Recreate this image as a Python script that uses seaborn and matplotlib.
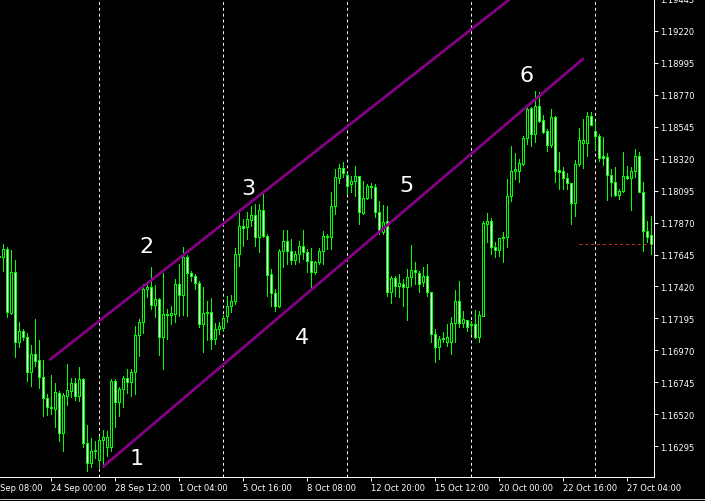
import numpy as np
import matplotlib
matplotlib.use("Agg")
import matplotlib.pyplot as plt
from matplotlib.lines import Line2D
import seaborn as sns

# --- OHLC, one value per H4 bar, left to right --- #
opens = [
    1.17629, 1.17629, 1.17685, 1.17235, 1.17523, 1.17030, 1.17108, 1.17066, 1.16819, 1.16946,
    1.16904, 1.16784, 1.16636, 1.16573, 1.16559, 1.16671, 1.16390, 1.16650, 1.16685, 1.16742,
    1.16650, 1.16770, 1.16319, 1.16179, 1.16270, 1.16200, 1.16340, 1.16291, 1.16291, 1.16756,
    1.16608, 1.16699, 1.16777, 1.16749, 1.16819, 1.17080, 1.17171, 1.17403, 1.17417, 1.17291,
    1.17333, 1.17066, 1.17228, 1.17221, 1.17228, 1.17439, 1.17361, 1.17629, 1.17516, 1.17495,
    1.17446, 1.17157, 1.17235, 1.17242, 1.17051, 1.17122, 1.17129, 1.17214, 1.17284, 1.17319,
    1.17650, 1.17847, 1.17840, 1.17889, 1.17924, 1.17769, 1.17960, 1.17776, 1.17509, 1.17375,
    1.17284, 1.17671, 1.17741, 1.17671, 1.17608, 1.17650, 1.17706, 1.17664, 1.17601, 1.17523,
    1.17594, 1.17671, 1.17776, 1.17769, 1.17988, 1.18185, 1.18255, 1.18206, 1.18143, 1.18164,
    1.18199, 1.17938, 1.18044, 1.18128, 1.18121, 1.17946, 1.17805, 1.17882, 1.17382, 1.17481,
    1.17425, 1.17439, 1.17417, 1.17488, 1.17537, 1.17516, 1.17453, 1.17495, 1.17382, 1.17087,
    1.16995, 1.17051, 1.17030, 1.17030, 1.17164, 1.17319, 1.17164, 1.17185, 1.17157, 1.17157,
    1.17066, 1.17214, 1.17861, 1.17882, 1.17699, 1.17678, 1.17762, 1.17769, 1.18058, 1.18234,
    1.18234, 1.18284, 1.18467, 1.18678, 1.18495, 1.18692, 1.18593, 1.18516, 1.18417, 1.18614,
    1.18241, 1.18234, 1.18185, 1.18150, 1.18009, 1.18284, 1.18431, 1.18431, 1.18621, 1.18516,
    1.18481, 1.18340, 1.18333, 1.18206, 1.18157, 1.18065, 1.18093, 1.18199, 1.18185, 1.18234,
    1.18340, 1.18086, 1.17812, 1.17783,
]
highs = [
    1.17650, 1.17720, 1.17699, 1.17678, 1.17608, 1.17171, 1.17122, 1.17094, 1.17009, 1.17192,
    1.17044, 1.16904, 1.16664, 1.16798, 1.16742, 1.16685, 1.16671, 1.16876, 1.16777, 1.16777,
    1.16855, 1.16777, 1.16446, 1.16355, 1.16333, 1.16369, 1.16411, 1.16404, 1.16770, 1.16770,
    1.16714, 1.16791, 1.16840, 1.16840, 1.17143, 1.17192, 1.17439, 1.17439, 1.17558, 1.17432,
    1.17340, 1.17516, 1.17263, 1.17284, 1.17474, 1.17580, 1.17699, 1.17643, 1.17530, 1.17509,
    1.17460, 1.17417, 1.17319, 1.17340, 1.17164, 1.17171, 1.17221, 1.17354, 1.17361, 1.17692,
    1.17967, 1.17896, 1.17946, 1.17988, 1.18002, 1.18002, 1.18072, 1.17790, 1.17544, 1.17403,
    1.17685, 1.17819, 1.17819, 1.17755, 1.17671, 1.17741, 1.17819, 1.17685, 1.17692, 1.17601,
    1.17692, 1.17812, 1.17790, 1.18086, 1.18248, 1.18284, 1.18298, 1.18220, 1.18199, 1.18269,
    1.18199, 1.18164, 1.18143, 1.18150, 1.18143, 1.18023, 1.17995, 1.17988, 1.17495, 1.17495,
    1.17509, 1.17474, 1.17544, 1.17713, 1.17594, 1.17530, 1.17558, 1.17580, 1.17382, 1.17122,
    1.17073, 1.17101, 1.17157, 1.17207, 1.17396, 1.17460, 1.17249, 1.17185, 1.17178, 1.17256,
    1.17249, 1.17882, 1.17938, 1.17903, 1.17734, 1.17762, 1.17805, 1.18178, 1.18410, 1.18361,
    1.18319, 1.18481, 1.18685, 1.18685, 1.18797, 1.18790, 1.18628, 1.18530, 1.18671, 1.18621,
    1.18368, 1.18262, 1.18220, 1.18150, 1.18312, 1.18537, 1.18600, 1.18650, 1.18650, 1.18586,
    1.18495, 1.18474, 1.18361, 1.18248, 1.18262, 1.18107, 1.18368, 1.18269, 1.18262, 1.18389,
    1.18368, 1.18157, 1.17882, 1.17917,
]
lows = [
    1.17601, 1.17530, 1.17207, 1.17228, 1.16925, 1.16995, 1.17044, 1.16756, 1.16721, 1.16862,
    1.16707, 1.16510, 1.16517, 1.16524, 1.16432, 1.16333, 1.16263, 1.16587, 1.16643, 1.16622,
    1.16615, 1.16291, 1.16122, 1.16151, 1.16214, 1.16151, 1.16151, 1.16228, 1.16263, 1.16432,
    1.16510, 1.16573, 1.16671, 1.16650, 1.16664, 1.16932, 1.17094, 1.17347, 1.17263, 1.17207,
    1.16939, 1.16840, 1.17051, 1.17157, 1.17171, 1.17214, 1.17221, 1.17214, 1.17460, 1.17403,
    1.17136, 1.16960, 1.17044, 1.16981, 1.17016, 1.17087, 1.17108, 1.17171, 1.17242, 1.17298,
    1.17565, 1.17706, 1.17755, 1.17847, 1.17706, 1.17664, 1.17769, 1.17354, 1.17284, 1.17249,
    1.17277, 1.17558, 1.17580, 1.17580, 1.17580, 1.17594, 1.17615, 1.17523, 1.17403, 1.17509,
    1.17580, 1.17580, 1.17685, 1.17685, 1.17931, 1.18150, 1.18192, 1.18072, 1.18086, 1.18058,
    1.17861, 1.17931, 1.18037, 1.18044, 1.17910, 1.17790, 1.17790, 1.17354, 1.17305, 1.17354,
    1.17347, 1.17284, 1.17185, 1.17425, 1.17439, 1.17382, 1.17425, 1.17354, 1.17030, 1.16890,
    1.16911, 1.17030, 1.17002, 1.16946, 1.17030, 1.17136, 1.17136, 1.17108, 1.17087, 1.17058,
    1.17030, 1.17214, 1.17734, 1.17650, 1.17629, 1.17636, 1.17594, 1.17699, 1.18023, 1.18178,
    1.18157, 1.18277, 1.18424, 1.18410, 1.18438, 1.18579, 1.18502, 1.18375, 1.18403, 1.18157,
    1.18107, 1.18107, 1.18107, 1.17861, 1.17917, 1.18269, 1.18255, 1.18340, 1.18558, 1.18389,
    1.18305, 1.18276, 1.18030, 1.18058, 1.18058, 1.18037, 1.18086, 1.18178, 1.17960, 1.18192,
    1.18086, 1.17671, 1.17734, 1.17650,
]
closes = [
    1.17636, 1.17685, 1.17242, 1.17523, 1.17030, 1.17108, 1.17066, 1.16819, 1.16946, 1.16897,
    1.16784, 1.16636, 1.16573, 1.16566, 1.16678, 1.16390, 1.16657, 1.16692, 1.16742, 1.16650,
    1.16770, 1.16319, 1.16179, 1.16263, 1.16263, 1.16340, 1.16362, 1.16362, 1.16756, 1.16608,
    1.16699, 1.16777, 1.16749, 1.16819, 1.17080, 1.17171, 1.17403, 1.17417, 1.17291, 1.17333,
    1.17066, 1.17228, 1.17221, 1.17235, 1.17439, 1.17361, 1.17629, 1.17516, 1.17495, 1.17446,
    1.17157, 1.17235, 1.17242, 1.17051, 1.17122, 1.17143, 1.17199, 1.17284, 1.17319, 1.17650,
    1.17847, 1.17833, 1.17896, 1.17924, 1.17769, 1.17960, 1.17776, 1.17502, 1.17375, 1.17284,
    1.17671, 1.17741, 1.17671, 1.17608, 1.17650, 1.17706, 1.17664, 1.17601, 1.17523, 1.17594,
    1.17671, 1.17776, 1.17769, 1.17988, 1.18192, 1.18255, 1.18220, 1.18128, 1.18164, 1.18199,
    1.17946, 1.18044, 1.18128, 1.18121, 1.17946, 1.17812, 1.17875, 1.17382, 1.17481, 1.17425,
    1.17446, 1.17417, 1.17488, 1.17537, 1.17523, 1.17439, 1.17495, 1.17382, 1.17087, 1.16995,
    1.17051, 1.17058, 1.17066, 1.17164, 1.17319, 1.17164, 1.17192, 1.17136, 1.17150, 1.17066,
    1.17221, 1.17868, 1.17882, 1.17699, 1.17678, 1.17762, 1.17769, 1.18058, 1.18234, 1.18248,
    1.18291, 1.18467, 1.18671, 1.18495, 1.18692, 1.18586, 1.18509, 1.18417, 1.18614, 1.18234,
    1.18227, 1.18185, 1.18150, 1.18009, 1.18284, 1.18452, 1.18452, 1.18621, 1.18558, 1.18481,
    1.18326, 1.18326, 1.18206, 1.18157, 1.18065, 1.18093, 1.18199, 1.18185, 1.18234, 1.18340,
    1.18086, 1.17812, 1.17769, 1.17720,
]

# --- TIME AXIS (bar index of each label) --- #
time_tick_bars = [-3, 13, 29, 45, 61, 77, 93, 109, 125, 141, 157]
time_tick_labels = [
    "21 Sep 08:00", "24 Sep 00:00", "28 Sep 12:00", "1 Oct 04:00", "5 Oct 16:00",
    "8 Oct 08:00", "12 Oct 20:00", "15 Oct 12:00", "20 Oct 00:00", "22 Oct 16:00",
    "27 Oct 04:00",
]
week_start_bars = [25, 56, 87, 118, 149]

# --- PRICE AXIS --- #
price_ticks = [
    1.16295, 1.16520, 1.16745, 1.16970, 1.17195, 1.17420, 1.17645, 1.17870,
    1.18095, 1.18320, 1.18545, 1.18770, 1.18995, 1.19220, 1.19445,
]

# --- OBJECTS DRAWN ON THE CHART: channel + wave count --- #
upper_line_bars = [12.7, 131.0]
upper_line_prices = [1.16906, 1.19519]
lower_line_bars = [26.0, 145.9]
lower_line_prices = [1.16152, 1.19023]
wave_labels = ["1", "2", "3", "4", "5", "6"]
wave_bars = [34.4, 36.7, 62.2, 75.7, 101.9, 131.7]
wave_prices = [1.16214, 1.17706, 1.18114, 1.17066, 1.18136, 1.18910]
level_line_from_bar = 145

# ======================================================================== #

LIME = "#00ff00"
PURPLE = "#850085"

sns.set_theme(style="dark", rc={
    "axes.facecolor": "black",
    "figure.facecolor": "black",
    "axes.grid": False,
    "text.color": "white",
    "xtick.color": "white",
    "ytick.color": "white",
    "axes.edgecolor": "white",
})
plt.rcParams["font.family"] = ["DejaVu Sans"]

fig = plt.figure(figsize=(7.05, 5.02), dpi=100)
ax = fig.add_axes([0, 24 / 502, 654 / 705, 478 / 502])

bars = np.arange(len(opens))
o = np.array(opens)
h = np.array(highs)
l = np.array(lows)
c = np.array(closes)
up = c >= o

# --- WEEK SEPARATORS --- #
for b in week_start_bars:
    ax.axvline(b, color="white", lw=0.7, ls=(0, (3, 3)), zorder=1)

# --- CANDLES (1px wicks, 3px bodies) --- #
ax.vlines(bars, l, h, color=LIME, lw=0.6, antialiased=False, zorder=2)
ax.bar(bars[up], c[up] - o[up], bottom=o[up], width=0.45, color="black",
       edgecolor=LIME, linewidth=0.6, antialiased=False, zorder=3)
ax.bar(bars[~up], o[~up] - c[~up], bottom=c[~up], width=0.45, color="white",
       edgecolor=LIME, linewidth=0.6, antialiased=False, zorder=3)

# --- LAST PRICE LEVEL --- #
ax.hlines(c[-1], level_line_from_bar, bars[-1], color="#c83232", lw=0.7,
          linestyles=(0, (3, 3)), zorder=4)

# --- CHANNEL LINES --- #
sns.lineplot(x=upper_line_bars, y=upper_line_prices, ax=ax, color=PURPLE, lw=2, zorder=5)
sns.lineplot(x=lower_line_bars, y=lower_line_prices, ax=ax, color=PURPLE, lw=2, zorder=5)

# --- WAVE COUNT --- #
for s, xb, yp in zip(wave_labels, wave_bars, wave_prices):
    ax.text(xb, yp, s, color="white", fontsize=16, ha="center", va="center", zorder=6)

# --- AXES --- #
ax.set_xlim(0.17, 163.67)
ax.set_ylim(1.16078, 1.19445)

ax.yaxis.tick_right()
ax.set_yticks(price_ticks)
ax.set_yticklabels([f"{p:.5f}" for p in price_ticks])
ax.tick_params(axis="y", right=True, left=False, length=3, width=0.7, pad=1.5,
               labelsize=6, colors="white")

ax.set_xticks(time_tick_bars[1:])
ax.set_xticklabels([])
ax.tick_params(axis="x", bottom=True, length=3, width=0.7, colors="white")
for b, s in zip(time_tick_bars, time_tick_labels):
    ax.annotate(s, xy=(b, 0), xycoords=("data", "axes fraction"), xytext=(-0.5, -4),
                textcoords="offset points", ha="left", va="top", fontsize=6,
                color="white", annotation_clip=False)

for side in ["top", "left"]:
    ax.spines[side].set_visible(False)
for side in ["right", "bottom"]:
    ax.spines[side].set_color("white")
    ax.spines[side].set_linewidth(0.7)
ax.set_xlabel("")
ax.set_ylabel("")

fig.add_artist(Line2D([0, 1], [2.5 / 502, 2.5 / 502], color="#c8c8c8", lw=0.7,
                      transform=fig.transFigure))

fig.savefig("out.png", dpi=100, facecolor="black")
